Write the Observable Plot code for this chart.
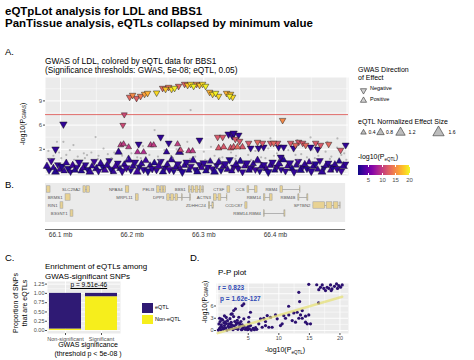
<!DOCTYPE html>
<html><head><meta charset="utf-8">
<script src="https://cdn.jsdelivr.net/npm/d3@7"></script>
<script src="https://cdn.jsdelivr.net/npm/@observablehq/plot@0.6"></script>
<style>
html,body{margin:0;padding:0;background:#fff}
#wrap{position:relative;width:474px;height:360px;overflow:hidden;font-family:"Liberation Sans",Arial,Helvetica,sans-serif;color:#000}
.abs{position:absolute;white-space:nowrap}
.abs sub{font-size:65%;vertical-align:-0.35em;line-height:0}
</style></head>
<body><div id="wrap"></div>
<script>
// ================= DATA =================
const X_DOMAIN = [66.079, 66.502];           // Mb
const MB_TICKS = [66.1, 66.2, 66.3, 66.4];
const GWAS_THRESHOLD = 5e-8;
const EQTL_THRESHOLD = 0.05;
const EQTL_COLOR_DOMAIN = [1.3, 20.4];        // -log10(P eQTL)
const COLOR_TICKS = [5, 10, 15, 20];
const EFFECT_SIZES = [0.4, 0.8, 1.2, 1.6];
const DIRECTIONS = ["Negative", "Positive"];

// [position Mb, -log10(P GWAS), direction (-1 neg / 1 pos), -log10(P eQTL), normalized effect size]
const topSnps = [
 [66.1964, 9.47, -1, 13, 0.6], [66.2006, 9.71, -1, 15, 0.6], [66.2061, 9.34, -1, 12.5, 0.6],
 [66.2117, 9.59, -1, 14, 0.6], [66.2173, 9.84, -1, 16, 0.6], [66.2215, 9.96, -1, 17, 0.6],
 [66.2341, 10.0, -1, 19, 0.6], [66.2425, 10.58, -1, 13, 0.6], [66.2466, 10.46, -1, 18, 0.6],
 [66.2508, 10.70, -1, 14, 0.6], [66.2550, 10.46, -1, 19, 0.6], [66.2592, 10.58, -1, 20, 0.6],
 [66.2648, 10.83, -1, 13, 0.6], [66.2732, 11.08, -1, 12.5, 0.6], [66.2774, 10.95, -1, 18, 0.6],
 [66.2816, 11.08, -1, 19, 0.6], [66.2858, 10.83, -1, 20, 0.6], [66.2899, 11.08, -1, 15, 0.6],
 [66.2941, 10.95, -1, 18, 0.6], [66.2983, 11.08, -1, 19, 0.6], [66.3025, 10.83, -1, 20, 0.6],
 [66.3081, 10.09, -1, 17, 0.6], [66.3123, 9.84, -1, 19, 0.6], [66.3165, 9.96, -1, 20, 0.6],
 [66.3207, 9.59, -1, 19, 0.6], [66.3318, 9.96, -1, 17, 0.6], [66.3360, 9.59, -1, 20, 0.6],
 [66.3402, 9.47, -1, 19, 0.6], [66.3374, 9.84, -1, 18, 0.6], [66.4100, 6.60, -1, 15, 0.6]
];
const midSnps = [
 [66.0930, 3.02, -1, 2.5, 0.8], [66.1040, 6.12, -1, 2.5, 0.8], [66.1870, 6.00, -1, 11, 0.5],
 [66.1890, 7.30, -1, 11, 0.5], [66.1810, 2.65, 1, 2.5, 0.8], [66.1840, 3.52, 1, 10, 0.5],
 [66.1880, 3.64, 1, 10, 0.5], [66.1950, 3.27, 1, 10, 0.5], [66.2075, 2.65, 1, 9, 0.5],
 [66.2090, 3.64, -1, 2.5, 0.7], [66.2160, 2.65, 1, 9, 0.5], [66.2257, 3.52, 1, 10, 0.5],
 [66.2300, 3.52, 1, 10, 0.5], [66.2397, 4.51, -1, 2.5, 0.7], [66.2480, 2.65, 1, 2.5, 0.6],
 [66.2510, 3.77, -1, 2.5, 0.7], [66.2634, 3.64, 1, 10, 0.5], [66.2660, 2.65, 1, 2.5, 0.9],
 [66.2676, 2.90, 1, 11, 0.5], [66.2790, 2.78, 1, 10, 0.5], [66.2844, 2.78, 1, 10, 0.5],
 [66.2940, 4.14, -1, 2.5, 0.7], [66.3193, 4.51, -1, 12, 0.6], [66.3207, 3.15, 1, 12, 0.6],
 [66.3263, 4.51, -1, 12, 0.6], [66.3277, 3.27, 1, 12, 0.6], [66.3346, 4.88, -1, 2.5, 0.8],
 [66.3374, 3.15, 1, 12, 0.6], [66.3400, 4.63, -1, 2.5, 0.7], [66.3416, 5.00, -1, 2.5, 0.8],
 [66.3416, 3.27, 1, 12, 0.6], [66.3440, 4.26, -1, 12, 0.6], [66.3470, 3.27, 1, 13, 0.6],
 [66.3486, 4.76, -1, 2.5, 0.7], [66.3500, 4.01, -1, 12, 0.6], [66.3540, 3.27, 1, 12, 0.6],
 [66.3626, 3.77, -1, 12, 0.6], [66.3654, 3.15, -1, 2.5, 0.7], [66.3750, 3.89, -1, 13, 0.6],
 [66.3765, 3.15, -1, 2.5, 0.7], [66.3820, 3.77, -1, 12, 0.6], [66.3835, 3.27, -1, 2.5, 0.7],
 [66.3933, 3.77, -1, 12, 0.6], [66.3975, 3.77, -1, 13, 0.6], [66.4030, 3.77, -1, 12, 0.6],
 [66.4045, 3.27, -1, 2.5, 0.7], [66.4073, 2.03, -1, 2.5, 0.7], [66.4115, 3.27, -1, 2.5, 0.7],
 [66.4212, 3.77, -1, 12, 0.6], [66.4254, 3.15, -1, 2.5, 0.7], [66.4280, 3.52, -1, 13, 0.6],
 [66.4324, 3.89, -1, 12, 0.6], [66.4380, 3.77, -1, 12, 0.6], [66.4422, 3.52, -1, 13, 0.6],
 [66.4492, 3.27, -1, 2.5, 0.7], [66.4562, 3.77, -1, 12, 0.6], [66.4590, 3.02, -1, 2.5, 0.7],
 [66.4630, 3.52, -1, 12, 0.6], [66.4743, 3.64, -1, 13, 0.6], [66.4910, 2.90, -1, 12, 0.6],
 [66.4980, 3.52, -1, 2.5, 0.7]
];
// dense low band of weak eQTL SNPs
const bandSnps = [
 [66.081,0.9,1,2.5,0.8],[66.084,0.4,-1,2,0.7],[66.087,1.6,-1,3,0.8],[66.090,0.7,1,2.5,0.6],[66.093,0.2,1,2,0.9],
 [66.096,1.1,-1,2.5,0.6],[66.099,0.5,1,3,0.7],[66.102,0.9,-1,2,0.8],[66.105,0.3,1,2.5,0.6],[66.108,1.3,1,2.5,0.7],
 [66.111,0.6,-1,2,0.9],[66.114,0.2,-1,2.5,0.6],[66.117,1.0,1,3,0.8],[66.120,0.4,1,2,0.7],[66.123,0.8,-1,2.5,0.6],
 [66.126,1.4,-1,2.5,0.9],[66.129,0.3,1,2,0.7],[66.132,0.7,1,3,0.8],[66.135,1.1,-1,2.5,0.6],[66.138,0.5,-1,2,0.7],
 [66.141,0.2,1,2.5,0.9],[66.144,0.9,1,2.5,0.6],[66.147,1.5,-1,3,0.7],[66.150,0.6,1,2,0.8],[66.153,0.3,-1,2.5,0.7],
 [66.156,1.2,1,2.5,0.9],[66.159,0.8,-1,2,0.6],[66.162,0.4,1,3,0.7],[66.165,1.0,1,2.5,0.8],[66.168,1.6,-1,2.5,0.7],
 [66.171,0.5,-1,2,0.9],[66.174,0.2,1,2.5,0.6],[66.177,0.9,1,3,0.8],[66.180,1.3,-1,2.5,0.7],[66.183,0.6,1,2,0.6],
 [66.186,0.3,-1,2.5,0.9],[66.189,1.1,1,2.5,0.7],[66.192,0.7,-1,3,0.8],[66.195,1.7,1,2.5,1.0],[66.198,0.4,-1,2,0.6],
 [66.201,0.9,1,2.5,0.7],[66.204,1.4,-1,2.5,0.8],[66.207,0.2,1,3,0.9],[66.210,0.8,-1,2,0.6],[66.213,1.2,1,2.5,0.7],
 [66.216,0.5,-1,2.5,0.8],[66.219,1.6,1,3,0.7],[66.222,0.3,-1,2,0.9],[66.225,1.0,1,2.5,0.6],[66.228,0.6,-1,2.5,0.8],
 [66.231,1.3,1,2,0.7],[66.234,0.4,-1,2.5,0.6],[66.237,0.9,1,3,0.9],[66.240,1.5,-1,2.5,0.7],[66.243,0.2,1,2,0.8],
 [66.246,0.7,-1,2.5,0.6],[66.249,1.1,1,2.5,0.7],[66.252,0.5,-1,3,0.9],[66.255,1.7,1,2.5,0.8],[66.258,0.3,-1,2,0.6],
 [66.261,0.8,1,2.5,0.7],[66.264,1.2,-1,2.5,0.8],[66.267,0.6,1,3,0.6],[66.270,0.2,-1,2,0.9],[66.273,1.0,1,2.5,0.7],
 [66.276,1.4,-1,2.5,0.8],[66.279,0.4,1,2,0.6],[66.282,0.9,-1,3,0.7],[66.285,1.6,1,2.5,0.9],[66.288,0.5,-1,2.5,0.6],
 [66.291,0.2,1,2,0.8],[66.294,1.1,-1,2.5,0.7],[66.297,0.7,1,3,0.6],[66.300,1.3,-1,2.5,0.9],[66.303,0.3,1,2,0.7],
 [66.306,0.8,-1,2.5,0.8],[66.309,1.5,1,2.5,0.6],[66.312,0.6,-1,3,0.7],[66.315,0.2,1,2,0.9],[66.318,1.0,-1,2.5,0.6],
 [66.321,1.4,1,2.5,0.8],[66.324,0.4,-1,2,0.7],[66.327,0.9,1,3,0.6],[66.330,1.2,-1,2.5,0.9],[66.333,0.5,1,2.5,0.7],
 [66.336,1.7,-1,2,0.8],[66.339,0.3,1,2.5,0.6],[66.342,0.8,-1,3,0.7],[66.345,1.1,1,2.5,0.9],[66.348,0.6,-1,2.5,0.6],
 [66.351,1.5,1,2,0.8],[66.354,0.2,-1,2.5,0.7],[66.357,0.9,1,3,0.6],[66.360,1.3,-1,2.5,0.9],[66.363,0.4,1,2,0.7],
 [66.366,0.7,-1,2.5,0.8],[66.369,1.2,1,2.5,0.6],[66.372,0.5,-1,3,0.7],[66.375,1.6,1,2.5,0.9],[66.378,0.3,-1,2,0.6],
 [66.381,0.9,1,2.5,0.8],[66.384,1.1,-1,2.5,0.7],[66.387,0.6,1,3,0.6],[66.390,0.2,-1,2,0.9],[66.393,1.0,1,2.5,0.7],
 [66.396,1.4,-1,2.5,0.8],[66.399,0.4,1,2,0.6],[66.402,0.8,-1,3,0.7],[66.405,1.2,1,2.5,0.9],[66.408,0.5,-1,2.5,0.6],
 [66.411,1.7,1,2,0.8],[66.414,0.3,-1,2.5,0.7],[66.417,0.9,1,3,0.6],[66.420,1.3,-1,2.5,0.9],[66.423,0.6,1,2,0.7],
 [66.426,0.2,-1,2.5,0.8],[66.429,1.0,1,2.5,0.6],[66.432,1.5,-1,3,0.7],[66.435,0.4,1,2,0.9],[66.438,0.8,-1,2.5,0.6],
 [66.441,1.1,1,2.5,0.8],[66.444,0.6,-1,2,0.7],[66.447,1.4,1,3,0.6],[66.450,0.3,-1,2.5,0.9],[66.453,0.9,1,2.5,0.7],
 [66.456,1.2,-1,2,0.8],[66.459,0.5,1,2.5,0.6],[66.462,1.6,-1,3,0.7],[66.465,0.2,1,2.5,0.9],[66.468,0.7,-1,2,0.6],
 [66.471,1.0,1,2.5,0.8],[66.474,1.3,-1,2.5,0.7],[66.477,0.4,1,3,0.6],[66.480,0.8,-1,2,0.9],[66.483,1.1,1,2.5,0.7],
 [66.486,0.6,-1,2.5,0.8],[66.489,1.5,1,2,0.6],[66.492,0.3,-1,3,0.7],[66.495,0.9,1,2.5,0.9],[66.498,1.2,-1,2.5,0.6]
];
// SNPs without eQTL data: [position Mb, -log10(P GWAS)]
const nonEqtlSnps = [
 [66.2313,5.38],[66.2816,7.86],[66.1489,4.51],[66.095,3.93],[66.104,3.93],[66.118,3.52],[66.1325,2.5],[66.137,2.28],
 [66.160,3.1],[66.175,2.6],[66.215,3.4],[66.245,2.9],[66.262,3.0],[66.300,2.7],[66.310,3.3],[66.338,2.6],[66.352,3.4],
 [66.372,2.8],[66.390,3.1],[66.402,2.5],[66.418,2.9],[66.436,2.4],[66.452,3.0],[66.470,2.7],[66.486,3.2],[66.496,2.5],
 [66.083,2.8],[66.090,2.2],[66.098,2.6],[66.108,2.3],[66.113,2.9],[66.124,2.1],[66.143,2.6],[66.153,2.2],[66.166,2.4],
 [66.186,2.2],[66.199,2.5],[66.207,2.0],[66.224,2.3],[66.236,2.1],[66.254,2.2],[66.271,2.4],[66.288,2.1],[66.315,2.2],
 [66.326,2.0],[66.345,2.2],[66.362,2.3],[66.380,2.0],[66.398,2.2],[66.411,2.1],[66.428,2.3],[66.444,2.0],[66.460,2.2],
 [66.478,2.1],[66.492,2.3],[66.393,4.35],[66.4306,4.14],[66.449,4.47],[66.4725,3.93],[66.4865,4.35],[66.277,3.93],
 [66.085,1.8],[66.101,1.9],[66.119,1.7],[66.134,1.9],[66.152,1.8],[66.171,1.9],[66.193,1.8],[66.212,1.9],[66.238,1.7],
 [66.257,1.9],[66.281,1.8],[66.302,1.7],[66.322,1.9],[66.344,1.8],[66.366,1.7],[66.386,1.9],[66.407,1.8],[66.431,1.7],
 [66.455,1.9],[66.476,1.8],[66.499,1.7]
];

// Gene track: [name, row, start Mb, end Mb]
const genes = [
 ["",1,66.081,66.086],["SLC29A2",1,66.132,66.141],["NPAS4",1,66.191,66.196],["PELI3",1,66.235,66.247],
 ["BBS1",1,66.279,66.300],["CTSF",1,66.333,66.337],["CCS",1,66.361,66.375],["RBM4",1,66.407,66.435],
 ["BRMS1",2,66.107,66.114],["MRPL11",2,66.205,66.209],["DPP3",2,66.249,66.282],["ACTN3",2,66.314,66.333],
 ["RBM14",2,66.384,66.396],["RBM4B",2,66.432,66.446],
 ["RIN1",3,66.100,66.104],["ZDHHC24",3,66.307,66.314],["CCDC87",3,66.358,66.361],["SPTBN2",3,66.453,66.491],
 ["B3GNT1",4,66.114,66.118],["RBM14-RBM4",4,66.384,66.414]
];
// Exons: [gene, start Mb, end Mb]
const exons = [
 ["",66.081,66.086],["SLC29A2",66.132,66.1355],["SLC29A2",66.137,66.141],["NPAS4",66.191,66.196],
 ["PELI3",66.235,66.2385],["PELI3",66.2405,66.2435],["PELI3",66.2445,66.247],
 ["BBS1",66.279,66.2815],["BBS1",66.2835,66.2865],["BBS1",66.2885,66.2925],["BBS1",66.2945,66.297],["BBS1",66.299,66.300],
 ["CTSF",66.333,66.337],["CCS",66.361,66.3635],["CCS",66.3715,66.375],["RBM4",66.407,66.4105],["RBM4",66.434,66.435],
 ["BRMS1",66.107,66.114],["MRPL11",66.205,66.209],
 ["DPP3",66.249,66.2525],["DPP3",66.2545,66.2585],["DPP3",66.2605,66.264],["DPP3",66.2695,66.2705],["DPP3",66.281,66.282],
 ["ACTN3",66.314,66.318],["ACTN3",66.3205,66.3245],["ACTN3",66.332,66.333],
 ["RBM14",66.384,66.386],["RBM14",66.3925,66.396],["RBM4B",66.432,66.4335],["RBM4B",66.4445,66.446],
 ["RIN1",66.100,66.104],["ZDHHC24",66.307,66.309],["ZDHHC24",66.312,66.314],["CCDC87",66.358,66.361],
 ["SPTBN2",66.453,66.4695],["SPTBN2",66.4715,66.4795],["SPTBN2",66.4815,66.488],["SPTBN2",66.4905,66.491],
 ["B3GNT1",66.114,66.118],["RBM14-RBM4",66.384,66.385],["RBM14-RBM4",66.4125,66.414]
];

// Panel C: enrichment
const enrichCats = ["Non-significant", "Significant"];
const enrichTypes = ["eQTL", "Non-eQTL"];
const enrichEqtl = [0.96, 0.09];
const enrichNonEqtl = [0.04, 0.91];
const enrichP = "9.51e-46";
const enrichYTicks = [0, 0.25, 0.5, 0.75, 1.0, 1.25];

// Panel D: P-P plot [-log10(P eQTL), -log10(P GWAS)]
const ppPoints = [
 [0.1,0.1],[0.3,0.5],[0.5,0.2],[0.7,0.8],[0.9,0.3],[1.1,1.2],[1.3,0.6],[1.5,0.1],[1.7,1.0],[1.9,0.4],[2.1,1.5],
 [2.3,0.7],[2.5,0.2],[2.7,1.1],[2.9,0.5],[3.1,1.8],[3.3,0.3],[3.5,0.9],[3.7,1.3],[3.9,0.2],[4.1,0.7],[4.3,1.0],
 [4.5,0.3],[4.7,0.6],[4.9,0.2],[5.2,0.4],[5.5,0.1],[0.2,1.6],[0.4,2.2],[0.6,1.4],[0.8,2.6],[1.0,1.9],[1.2,2.1],
 [1.4,1.7],[1.6,2.4],[1.8,1.6],[2.0,2.9],[2.2,2.0],[2.4,1.3],[2.6,3.4],[2.8,2.2],[3.0,1.5],[3.2,2.5],[3.4,1.9],
 [3.6,1.6],[3.8,2.2],[4.0,1.4],[0.3,3.0],[0.6,2.8],[1.1,3.6],[1.4,3.2],[2.2,4.0],[2.6,4.9],[0.5,0.9],[1.0,0.5],
 [2.0,0.8],[3.0,0.6],[4.0,0.3],[5.0,1.0],[5.8,0.5],[6.0,0.2],[6.4,0.3],[6.2,0.7],
 [2.37,4.07],[2.9,5.3],[4.0,6.1],[4.27,2.85],[5.09,2.03],[5.36,1.22],[3.45,3.25],[4.82,0.4],[4.27,6.5],[5.36,4.47],[5.09,3.25],
 [7.0,2.85],[7.54,3.0],[8.1,3.66],[8.64,3.25],[9.46,3.82],[7.82,1.22],[8.36,0.8],[8.9,0.8],[7.28,0.8],[9.73,2.85],[6.72,1.63],[7.82,2.2],
 [10.8,3.66],[11.63,3.82],[12.45,4.3],[13.0,4.47],[13.55,3.82],[13.83,3.0],[14.37,3.5],[14.9,3.82],[12.19,2.44],[12.73,2.03],
 [13.27,3.0],[14.37,2.03],[14.64,1.63],[15.18,1.63],[13.83,4.88],[10.27,1.22],[10.55,1.63],[11.09,3.0],
 [14.9,11.3],[13.27,9.34],[13.4,7.07],[16.5,6.75],[11.6,5.93],
 [16.2,11.2],[17.1,11.15],[17.36,10.3],[17.9,10.56],[18.46,11.15],[18.7,10.17],[19.1,10.8],[19.44,11.4],[19.8,10.97],
 [20.37,11.15],[18.57,9.76],[18.18,10.3],[17.64,9.76],[16.54,10.0],[16.82,10.56],[20.1,10.6],[19.6,10.3]
];
const ppR = "0.823";
const ppP = "1.62e-127";
const ppFit = {slope: 0.437, intercept: -0.645};

// ================= STYLE =================
const FONT = '"Liberation Sans", Arial, Helvetica, sans-serif';
const PANEL_BG = "#ebebeb";
const TICK_COL = "#4d4d4d";
const EQTL_PURPLE = "#2f1a74";
const NONEQTL_YELLOW = "#f6ee1c";
const wrap = document.getElementById("wrap");
const baseStyle = {background: "transparent", overflow: "visible", fontFamily: FONT, color: TICK_COL};

function T(html, x, baseline, size, style = {}, anchor) {
  const d = document.createElement("div");
  d.className = "abs"; d.innerHTML = html;
  Object.assign(d.style, {left: x + "px", top: (baseline - 0.85 * size) + "px", fontSize: size + "px", lineHeight: size + "px"}, style);
  if (anchor === "middle") d.style.transform = "translateX(-50%)";
  wrap.appendChild(d); return d;
}
function R(html, cx, cy, size, style = {}) {
  const d = document.createElement("div");
  d.className = "abs"; d.innerHTML = html;
  Object.assign(d.style, {left: cx + "px", top: cy + "px", fontSize: size + "px", lineHeight: (size * 1.2) + "px",
    textAlign: "center", transform: "translate(-50%,-50%) rotate(-90deg)"}, style);
  wrap.appendChild(d); return d;
}
function place(el, x, y) {
  el.style.position = "absolute"; el.style.left = x + "px"; el.style.top = y + "px";
  wrap.appendChild(el); return el;
}

const triDown = {
  draw(ctx, size) {
    const y = -Math.sqrt(size / (Math.sqrt(3) * 3));
    ctx.moveTo(0, -y * 2);
    ctx.lineTo(Math.sqrt(3) * y, y);
    ctx.lineTo(-Math.sqrt(3) * y, y);
    ctx.closePath();
  }
};
const SYMBOL_SCALE = {domain: [-1, 1], range: [triDown, d3.symbolTriangle]};
const R_SCALE = {type: "linear", domain: [0.4, 1.6], range: [2.05, 4.2]};
const COLOR_SCALE = {type: "linear", scheme: "plasma", domain: EQTL_COLOR_DOMAIN};

const toSnp = ([pos, gwas, dir, eq, es]) => ({pos, gwas, dir, eq, es});
const band = bandSnps.map(toSnp);
const colored = [...midSnps, ...topSnps].map(toSnp).sort((a, b) => a.eq - b.eq);
const gray = nonEqtlSnps.map(([pos, gwas]) => ({pos, gwas}));
const gwasLine = -Math.log10(GWAS_THRESHOLD);

// ================= TEXT =================
T("<b>eQTpLot analysis for LDL and BBS1</b>", 5, 15.5, 11.5);
T("<b>PanTissue analysis, eQTLs collapsed by minimum value</b>", 5, 28, 11.5);
T("A.", 5, 55, 9.5);
T(`GWAS of LDL, colored by eQTL data for BBS1`, 45, 64, 8.3);
T(`(Significance thresholds: GWAS, ${GWAS_THRESHOLD.toExponential(0).replace("e-", "e-0")}; eQTL, ${EQTL_THRESHOLD})`, 45, 73.3, 8.3);
R("-log10(P<sub>GWAS</sub>)", 23, 124, 7);

// ================= PANEL A =================
const gridMajorX = [66.1, 66.2, 66.3, 66.4, 66.5];
const gridMinorX = [66.15, 66.25, 66.35, 66.45];
const aPlot = Plot.plot({
  width: 350, height: 124, marginLeft: 45, marginRight: 2, marginTop: 22, marginBottom: 4,
  style: baseStyle,
  x: {domain: X_DOMAIN, axis: null},
  y: {domain: [-0.25, 11.9]},
  color: COLOR_SCALE, r: R_SCALE, symbol: SYMBOL_SCALE,
  marks: [
    Plot.frame({fill: PANEL_BG, stroke: null}),
    Plot.gridX(gridMinorX, {stroke: "white", strokeOpacity: 1, strokeWidth: 0.5}),
    Plot.gridX(gridMajorX, {stroke: "white", strokeOpacity: 1, strokeWidth: 1}),
    Plot.gridY([1.5, 4.5, 7.5, 10.5], {stroke: "white", strokeOpacity: 1, strokeWidth: 0.5}),
    Plot.gridY([0, 3, 6, 9], {stroke: "white", strokeOpacity: 1, strokeWidth: 1}),
    Plot.dot(band, {x: "pos", y: "gwas", r: "es", fill: "eq", symbol: "dir", stroke: "#111", strokeWidth: 0.4, sort: null}),
    Plot.dot(gray, {x: "pos", y: "gwas", r: 1.1, fill: "#8a8a8a", fillOpacity: 0.55}),
    Plot.ruleY([gwasLine], {stroke: "#e0605c", strokeWidth: 0.9}),
    Plot.dot(colored, {x: "pos", y: "gwas", r: "es", fill: "eq", symbol: "dir", stroke: "#111", strokeWidth: 0.45, sort: null}),
    Plot.axisY([3, 6, 9], {tickSize: 2, tickPadding: 1.5, fontSize: 6, label: null, color: TICK_COL})
  ]
});
place(aPlot, 0, 55);

// Legends for A
T("GWAS Direction", 358, 72.3, 7);
T("of Effect", 358, 79.5, 7);
function triKey(symbol, r, fill) {
  return Plot.plot({width: 10, height: 10, margin: 0, style: baseStyle,
    marks: [Plot.dot([0], {frameAnchor: "middle", r, symbol, fill, stroke: "#333", strokeWidth: 0.6})]});
}
place(triKey(triDown, 2.3, "#d0d0d0"), 357.7, 84.5);
T(DIRECTIONS[0], 370, 91, 5.5);
place(triKey("triangle", 2.3, "#d0d0d0"), 357.7, 94.5);
T(DIRECTIONS[1], 370, 101.5, 5.5);

T("eQTL Normalized Effect Size", 358, 124, 7);
const esKeyX = [362.5, 379.8, 400, 437.5];
const esLabX = [368.5, 386, 408.5, 448.5];
EFFECT_SIZES.forEach((es, i) => {
  const k = Plot.plot({width: 14, height: 14, margin: 0, style: baseStyle, r: R_SCALE,
    marks: [Plot.dot([es], {frameAnchor: "middle", r: d => d, symbol: "triangle", fill: "#bdbdbd", stroke: "#333", strokeWidth: 0.6})]});
  place(k, esKeyX[i] - 7, 131.5 - 7);
  T(String(es), esLabX[i], 134, 5);
});

T("-log10(P<sub>eQTL</sub>)", 358, 158.5, 7);
const cbar = Plot.legend({
  color: COLOR_SCALE, ticks: COLOR_TICKS, tickSize: 0, label: null,
  width: 64, height: 23, marginTop: 2, marginBottom: 11, marginLeft: 6, marginRight: 6,
  style: {...baseStyle, fontSize: "6px"}
});
cbar.querySelectorAll(".tick line").forEach(l => { l.setAttribute("stroke", "white"); l.setAttribute("stroke-dasharray", "2 6 2"); });
place(cbar, 352, 163);

// ================= PANEL B =================
T("B.", 5, 188.5, 9.5);
const geneRows = genes.map(([name, row, start, end]) => ({name, row, start, end}));
const rowOf = new Map(geneRows.map(g => [g.name, g.row]));
const exonRows = exons.map(([gene, start, end]) => ({gene, start, end, row: rowOf.get(gene)}));
const bPlot = Plot.plot({
  width: 350, height: 62, marginLeft: 45, marginRight: 2, marginTop: 3, marginBottom: 13,
  style: baseStyle,
  x: {domain: X_DOMAIN},
  y: {domain: [6, 0.25], axis: null},
  marks: [
    Plot.rect([X_DOMAIN], {x1: d => d[0], x2: d => d[1] - 0.004, y1: 0.25, y2: 5.12, fill: PANEL_BG}),
    Plot.ruleY(geneRows, {y: "row", x1: "start", x2: "end", stroke: "#8c8c8c", strokeWidth: 0.6}),
    Plot.rect(exonRows, {x1: "start", x2: "end", y1: d => d.row - 0.4, y2: d => d.row + 0.4, fill: "#e8d293", stroke: "#999", strokeWidth: 0.5}),
    Plot.text(geneRows, {x: "start", y: "row", text: "name", textAnchor: "end", dx: -3, fontSize: 4.3, fill: "#555"}),
    Plot.ruleY([6], {x1: X_DOMAIN[0], x2: X_DOMAIN[1] - 0.004, stroke: "#333", strokeWidth: 0.7}),
    Plot.axisX(MB_TICKS, {tickSize: 0, tickPadding: 2.5, fontSize: 6.5, tickFormat: d => d.toFixed(1) + " mb", label: null, color: "#333"})
  ]
});
place(bPlot, 0, 180);

// ================= PANEL C =================
T("C.", 5, 261, 9.5);
T("Enrichment of eQTLs among", 45, 270, 8);
T("GWAS-significant SNPs", 45, 279.5, 8);
const enrichRows = enrichCats.flatMap((c, i) => [
  {cat: c, type: enrichTypes[1], value: enrichNonEqtl[i]},
  {cat: c, type: enrichTypes[0], value: enrichEqtl[i]}
]);
const cPlot = Plot.plot({
  width: 125, height: 65, marginLeft: 47, marginRight: 5, marginTop: 3, marginBottom: 10,
  style: baseStyle,
  x: {type: "band", domain: enrichCats, paddingInner: 0.1, paddingOuter: 0.05},
  y: {domain: [-0.08, 1.32]},
  color: {domain: enrichTypes, range: [EQTL_PURPLE, NONEQTL_YELLOW]},
  marks: [
    Plot.frame({fill: PANEL_BG, stroke: null}),
    Plot.gridY([0.125, 0.375, 0.625, 0.875, 1.125], {stroke: "white", strokeOpacity: 1, strokeWidth: 0.5}),
    Plot.gridY(enrichYTicks, {stroke: "white", strokeOpacity: 1, strokeWidth: 0.9}),
    Plot.gridX(enrichCats, {stroke: "white", strokeOpacity: 1, strokeWidth: 0.9}),
    Plot.barY(enrichRows, {x: "cat", y: "value", fill: "type", order: [enrichTypes[1], enrichTypes[0]]}),
    Plot.axisY(enrichYTicks, {tickSize: 2, tickPadding: 1, fontSize: 5.5, tickFormat: ".2f", label: null, color: TICK_COL}),
    Plot.axisX({tickSize: 2, tickPadding: 1.5, fontSize: 5.5, label: null, color: TICK_COL})
  ]
});
place(cPlot, 0, 278);
T(`<span style="text-decoration:underline">p = ${enrichP}</span>`, 70.5, 287.5, 6.5);
R("Proportion of SNPs<br>that are eQTLs", 20, 303, 7, {lineHeight: "8.5px"});
T("GWAS significance", 88, 347, 7, {}, "middle");
T(`(threshold p &lt; ${GWAS_THRESHOLD.toExponential(0).replace("e-", "e-0")} )`, 88, 355.5, 7, {}, "middle");
enrichTypes.forEach((t, i) => {
  const sw = document.createElement("div");
  Object.assign(sw.style, {position: "absolute", left: "142px", top: (303 + i * 11.5) + "px", width: "10.5px", height: "9.5px",
    background: i === 0 ? EQTL_PURPLE : NONEQTL_YELLOW});
  wrap.appendChild(sw);
  T(t, 155, 310 + i * 11.5, 5.5);
});

// ================= PANEL D =================
T("D.", 190, 261, 9.5);
T("P-P plot", 218, 275.8, 8);
const pp = ppPoints.map(([x, y]) => ({x, y}));
const xExt = d3.extent(pp, d => d.x);
const fitLine = [0, xExt[1]].map(x => ({x, y: ppFit.intercept + ppFit.slope * x}));
const dPlot = Plot.plot({
  width: 152, height: 60, marginLeft: 16, marginRight: 4, marginTop: 3, marginBottom: 7,
  style: baseStyle,
  x: {domain: [-0.2, 21.4]},
  y: {domain: [-0.73, 11.5]},
  marks: [
    Plot.frame({fill: PANEL_BG, stroke: null}),
    Plot.gridX([2.5, 7.5, 12.5, 17.5], {stroke: "white", strokeOpacity: 1, strokeWidth: 0.5}),
    Plot.gridX([0, 5, 10, 15, 20], {stroke: "white", strokeOpacity: 1, strokeWidth: 0.9}),
    Plot.gridY([1.5, 4.5, 7.5, 10.5], {stroke: "white", strokeOpacity: 1, strokeWidth: 0.5}),
    Plot.gridY([0, 3, 6, 9], {stroke: "white", strokeOpacity: 1, strokeWidth: 0.9}),
    Plot.dot(pp, {x: "x", y: "y", r: 1.6, fill: "#2b1070"}),
    Plot.line(fitLine, {x: "x", y: "y", stroke: "#e6e070", strokeWidth: 2.4, strokeOpacity: 0.7}),
    Plot.axisX([5, 10, 15, 20], {tickSize: 2, tickPadding: 1, fontSize: 5.5, label: null, color: TICK_COL}),
    Plot.axisY([0, 3, 6], {tickSize: 2, tickPadding: 1, fontSize: 5.5, label: null, color: TICK_COL})
  ]
});
place(dPlot, 200, 280);
T(`<b>r = ${ppR}</b>`, 218, 291, 6.5, {color: "#2f49b5"});
T(`<b>p = ${ppP}</b>`, 220, 301.5, 6.5, {color: "#2f49b5"});
R("-log10(P<sub>GWAS</sub>)", 205, 302, 7);
T("-log10(P<sub>eQTL</sub>)", 285, 351.5, 7, {}, "middle");
</script></body></html>
